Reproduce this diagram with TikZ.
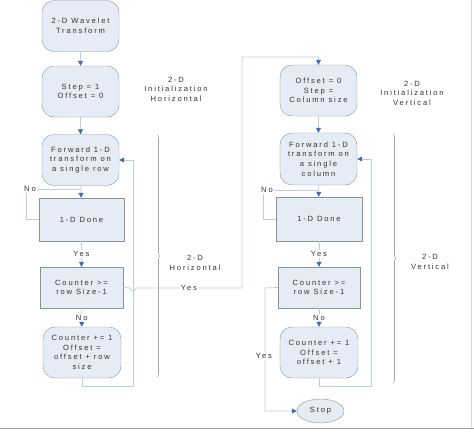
\documentclass[tikz,border=0pt]{standalone}
\usepackage{fontspec}
\usetikzlibrary{arrows.meta,shapes.geometric,decorations.pathreplacing}
\newfontfamily\flowfont[LetterSpace=24]{Liberation Sans}
\definecolor{boxfill}{HTML}{E6ECF6}
\definecolor{boxedge}{HTML}{8C9099}
\definecolor{wire}{HTML}{BFCCDD}
\definecolor{tipblue}{HTML}{3E6DB5}
\definecolor{inkgray}{HTML}{333333}
\tikzset{
  stepround/.style={draw=boxedge, fill=boxfill, rounded corners=12pt, align=center,
    minimum width=77pt, minimum height=51pt, inner sep=1pt},
  steprect/.style={draw=boxedge, fill=boxfill, align=center,
    minimum width=84pt, minimum height=42pt, inner sep=1pt},
  flow/.style={draw=wire, line width=0.8pt, -{Triangle[length=5pt,width=5pt,color=tipblue]}},
  wireonly/.style={draw=wire, line width=0.8pt},
  lbl/.style={fill=white, inner sep=1pt, text=inkgray},
  side/.style={align=center, text=inkgray},
  bracket/.style={draw=gray!70, line width=0.6pt, decorate, decoration={brace, amplitude=3pt}}
}
\begin{document}
\begin{tikzpicture}[x=1pt, y=-1pt, font=\flowfont\fontsize{7.6}{9.6}\selectfont, text=inkgray]
\useasboundingbox (0,0) rectangle (474,432);

% frame of the figure
\draw[gray!30, line width=0.8pt] (471.5,0) -- (471.5,428);
\draw[gray!75, line width=1.2pt] (0,428.6) -- (474,428.6);

% horizontal pass
\node[stepround] (wavelet) at (80.5,26) {2-D Wavelet\\Transform};
\node[stepround] (initrow) at (80.5,91.5) {Step = 1\\Offset = 0};
\node[stepround] (fwdrow) at (80.5,160) {Forward 1-D\\transform on\\a single row};
\node[steprect, minimum width=85pt, minimum height=43pt] (donerow) at (81.5,219.5) {1-D Done};
\node[steprect, minimum width=83pt, minimum height=41pt] (cmprow) at (81.5,287.5) {Counter >=\\row Size-1};
\node[stepround, minimum width=78pt] (incrow) at (82,352.5) {Counter += 1\\Offset =\\offset + row\\size};

% vertical pass
\node[stepround] (initcol) at (318.5,90.5) {Offset = 0\\Step =\\Column size};
\node[stepround, minimum height=52pt] (fwdcol) at (318.5,159) {Forward 1-D\\transform on\\a single\\column};
\node[steprect, minimum width=86pt, minimum height=44pt] (donecol) at (319,219) {1-D Done};
\node[steprect, minimum width=82pt, minimum height=41pt] (cmpcol) at (319,287.5) {Counter >=\\row Size-1};
\node[stepround, minimum width=78pt] (inccol) at (319,352.5) {Counter += 1\\Offset =\\offset + 1};
\node[ellipse, draw=boxedge, fill=boxfill, minimum width=47pt, minimum height=24pt, inner sep=0pt] (stop) at (320.5,411) {Stop};

% side notes
\node[side] (noteinitrow) at (176,89) {2-D\\Initialization\\Horizontal};
\node[side] (noteinitcol) at (412,93) {2-D\\Initialization\\Vertical};
\node[side] (noterow) at (195,263) {2-D\\Horizontal};
\node[side] (notecol) at (430,262) {2-D\\Vertical};
\draw[bracket] (157,135) -- (157,377);
\draw[bracket] (393,134) -- (393,383);

% turning points
\coordinate (noleft) at (26,189);
\coordinate (backrow) at (133,386);
\coordinate (bend) at (242,288);
\coordinate (over) at (242,57);
\coordinate (nocol) at (263,190);
\coordinate (backcol) at (371,386);
\coordinate (yescol) at (265,288);

% connectors, horizontal
\draw[flow] (wavelet) -- (initrow);
\draw[flow] (initrow) -- (fwdrow);
\draw[flow] (fwdrow) -- (donerow);
\draw[wireonly] (donerow.west) -| (noleft) -- (noleft -| fwdrow.south);
\node[lbl] (nor) at (30,189) {No};
\draw[flow] (donerow) -- node[lbl] {Yes} (cmprow);
\draw[flow] (cmprow) -- node[lbl] {No} (incrow);
\draw[flow] (incrow.south) |- (backrow) |- (fwdrow.east);
\draw[flow] (cmprow.east) -- (130,288) arc[start angle=180, end angle=0, radius=3]
  -- node[lbl] {Yes} (bend) -- (over) -| (initcol.north);

% connectors, vertical
\draw[flow] (initcol) -- (fwdcol);
\draw[flow] (fwdcol) -- (donecol);
\draw[wireonly] (donecol.west) -| (nocol) -- (nocol -| fwdcol.south);
\node[lbl] (noc) at (267,190) {No};
\draw[flow] (donecol) -- node[lbl] {Yes} (cmpcol);
\draw[flow] (cmpcol) -- node[lbl] {No} (inccol);
\draw[flow] (inccol.south) |- (backcol) |- (fwdcol.east);
\draw[flow] (cmpcol.west) -- (yescol) |- (stop.west);
\node[lbl] (yesc) at (264,356) {Yes};
\end{tikzpicture}
\end{document}
